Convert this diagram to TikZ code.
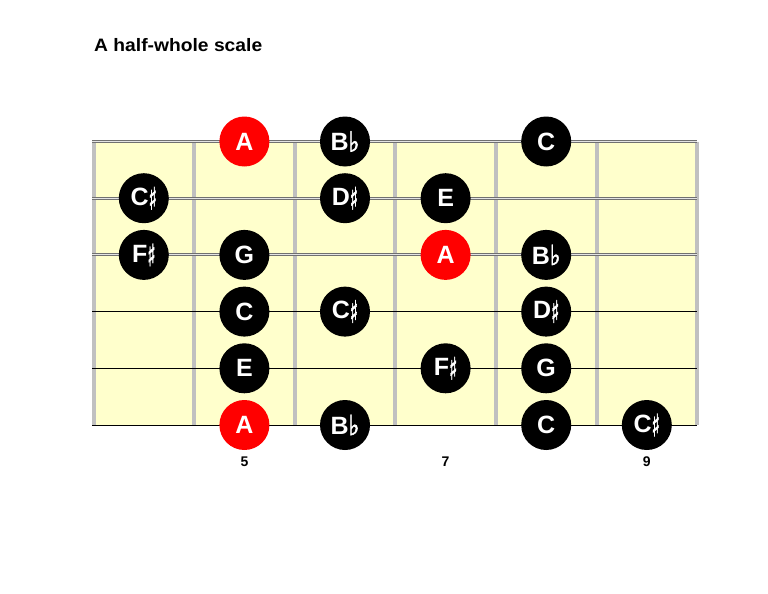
\documentclass[tikz,border=0pt]{standalone}
\usepackage{fontspec}
\setmainfont{Liberation Sans}
\newfontfamily\accfont{DejaVu Sans}[FakeBold=2]
\definecolor{board}{HTML}{FFFFCC}
\definecolor{fretc}{HTML}{C0C0C0}
\definecolor{notered}{HTML}{FF0000}
\definecolor{strdark}{HTML}{707070}
\definecolor{strlight}{HTML}{E4E4E4}
\newcommand{\shp}{\raisebox{-4pt}{\scalebox{0.55}[1]{\fontsize{31}{31}\accfont ♯}}}
\newcommand{\flt}{\raisebox{-1pt}{\scalebox{0.8}[1]{\fontsize{28}{28}\accfont ♭}}}
\tikzset{
  note/.style={circle, fill=black, minimum size=50pt, inner sep=0pt, text=white,
    font=\fontsize{25}{25}\selectfont\bfseries},
  rootnote/.style={note, fill=notered},
  fretline/.style={fretc, line width=4pt},
  heavystring/.style={strdark, line width=3pt},
  heavycore/.style={strlight, line width=1pt},
  lightstring/.style={black, line width=1pt},
  fretnum/.style={font=\fontsize{14}{14}\selectfont\bfseries},
}
\begin{document}
\begin{tikzpicture}[x=1pt,y=-1pt]
\useasboundingbox[fill=white] (0,0) rectangle (768,594);
\node[anchor=base west, inner sep=0pt, font=\fontsize{18}{18}\selectfont\bfseries] (title) at (94,52) {\scalebox{1.07}[1]{A half-whole scale}};
% board
\fill[board] (93.5,141.5) rectangle (697,425);
\foreach \i in {0,...,6}
  \draw[fretline] ({93.5+100.6*\i},141.5) -- ({93.5+100.6*\i},425);
\foreach \s in {0,1,2}{
  \draw[heavystring] (92,{141.5+56.7*\s}) -- (697,{141.5+56.7*\s});
  \draw[heavycore] (92,{141.5+56.7*\s}) -- (697,{141.5+56.7*\s});
}
\foreach \s in {3,4,5}
  \draw[lightstring] (92,{141.5+56.7*\s}) -- (697,{141.5+56.7*\s});
% notes
\foreach \c/\s/\t/\st/\nm in {
  2/1/A/rootnote/na1, 3/1/B\flt/note/nb1, 5/1/C/note/nc1,
  1/2/C\shp/note/ncs2, 3/2/D\shp/note/nds2, 4/2/E/note/ne2,
  1/3/F\shp/note/nfs3, 2/3/G/note/ng3, 4/3/A/rootnote/na3, 5/3/B\flt/note/nb3,
  2/4/C/note/nc4, 3/4/C\shp/note/ncs4, 5/4/D\shp/note/nds4,
  2/5/E/note/ne5, 4/5/F\shp/note/nfs5, 5/5/G/note/ng5,
  2/6/A/rootnote/na6, 3/6/B\flt/note/nb6, 5/6/C/note/nc6, 6/6/C\shp/note/ncs6}
  \node[\st] (\nm) at ({93.5+100.6*(\c-0.5)},{141.5+56.7*(\s-1)}) {\t};
% fret numbers
\node[fretnum] (f5) at ({93.5+100.6*1.5},462) {5};
\node[fretnum] (f7) at ({93.5+100.6*3.5},462) {7};
\node[fretnum] (f9) at ({93.5+100.6*5.5},462) {9};
\end{tikzpicture}
\end{document}
